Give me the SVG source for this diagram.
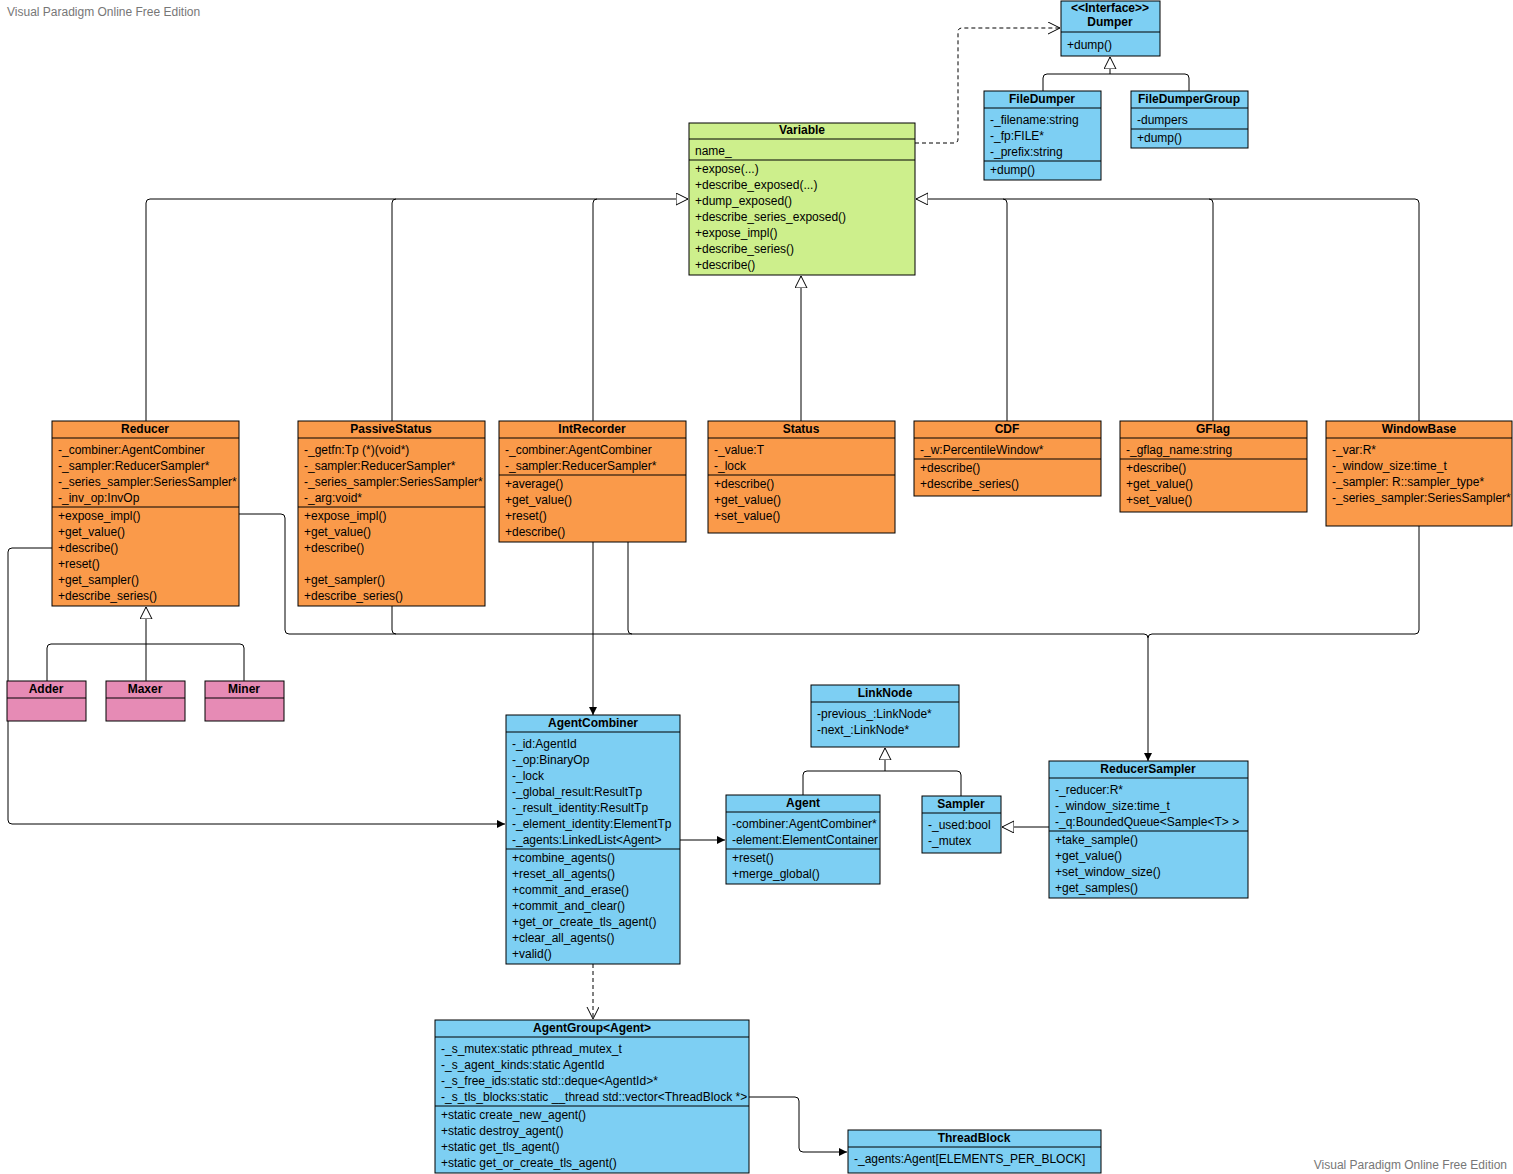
<svg xmlns="http://www.w3.org/2000/svg" width="1513" height="1174" viewBox="0 0 1513 1174">
<style>
text{font-family:"Liberation Sans",Arial,sans-serif;font-size:12px;fill:#000}
.h{font-weight:bold;text-anchor:middle}
.b{stroke:#000;stroke-width:1}
.o{fill:#FA9A4A}.c{fill:#7DCFF3}.g{fill:#CDEF8C}.p{fill:#E68BB5}
.l{fill:none;stroke:#000;stroke-width:1}
.d{fill:none;stroke:#000;stroke-width:1;stroke-dasharray:4 3}
.wm{fill:#777;font-size:12px}
</style>
<defs>
<marker id="tri" markerWidth="14" markerHeight="14" refX="12" refY="6" orient="auto" markerUnits="userSpaceOnUse"><path d="M0,0 L12,6 L0,12 Z" fill="#fff" stroke="#000"/></marker>
<marker id="arr" markerWidth="10" markerHeight="10" refX="8" refY="4" orient="auto" markerUnits="userSpaceOnUse"><path d="M0,0 L8,4 L0,8 Z" fill="#000"/></marker>
<marker id="open" markerWidth="14" markerHeight="14" refX="12" refY="6" orient="auto" markerUnits="userSpaceOnUse"><path d="M0,0 L12,6 L0,12" fill="none" stroke="#000"/></marker>
</defs>
<rect width="1513" height="1174" fill="#fff"/>
<text class="wm" x="7" y="16">Visual Paradigm Online Free Edition</text>
<text class="wm" x="1507" y="1169" text-anchor="end">Visual Paradigm Online Free Edition</text>

<g id="connectors">
<path class="d" d="M915,143 H954 Q958,143 958,139 V32 Q958,28 962,28 H1060" marker-end="url(#open)"/>
<path class="l" d="M1043,91 V78 Q1043,74 1047,74 H1185 Q1189,74 1189,78 V91"/>
<path class="l" d="M1110,74 V57" marker-end="url(#tri)"/>
<path class="l" d="M146,421 V203 Q146,199 150,199 H688" marker-end="url(#tri)"/>
<path class="l" d="M392,421 V203 Q392,199 396,199"/>
<path class="l" d="M593,421 V203 Q593,199 597,199"/>
<path class="l" d="M1419,421 V203 Q1419,199 1415,199 H916" marker-end="url(#tri)"/>
<path class="l" d="M1213,421 V203 Q1213,199 1209,199"/>
<path class="l" d="M1007,421 V203 Q1007,199 1003,199"/>
<path class="l" d="M801,421 V276" marker-end="url(#tri)"/>
<path class="l" d="M47,681 V648 Q47,644 51,644 H240 Q244,644 244,648 V681"/>
<path class="l" d="M146,681 V607" marker-end="url(#tri)"/>
<path class="l" d="M52,548 H12 Q8,548 8,552 V820 Q8,824 12,824 H505" marker-end="url(#arr)"/>
<path class="l" d="M593,542 V715" marker-end="url(#arr)"/>
<path class="l" d="M239,514 H281 Q285,514 285,518 V630 Q285,634 289,634 H1144 Q1148,634 1148,638 V761" marker-end="url(#arr)"/>
<path class="l" d="M392,606 V630 Q392,634 396,634"/>
<path class="l" d="M628,542 V630 Q628,634 632,634"/>
<path class="l" d="M1419,526 V630 Q1419,634 1415,634 H1152 Q1148,634 1148,638"/>
<path class="l" d="M680,840 H725" marker-end="url(#arr)"/>
<path class="l" d="M803,795 V775 Q803,771 807,771 H957 Q961,771 961,775 V796"/>
<path class="l" d="M885,771 V748" marker-end="url(#tri)"/>
<path class="l" d="M1049,827 H1002" marker-end="url(#tri)"/>
<path class="d" d="M593,964 V1019" marker-end="url(#open)"/>
<path class="l" d="M749,1097 H795 Q799,1097 799,1101 V1148 Q799,1152 803,1152 H847" marker-end="url(#arr)"/>
</g>

<g id="Dumper"><rect class="c b" x="1061" y="1" width="99" height="55"/><line class="b" x1="1061" y1="32" x2="1160" y2="32"/>
<text class="h" x="1110" y="12">&lt;&lt;Interface&gt;&gt;</text><text class="h" x="1110" y="26">Dumper</text><text x="1067" y="49">+dump()</text></g>

<g id="FileDumper"><rect class="c b" x="984" y="91" width="117" height="89"/><line class="b" x1="984" y1="108" x2="1101" y2="108"/><line class="b" x1="984" y1="161" x2="1101" y2="161"/>
<text class="h" x="1042" y="103">FileDumper</text><text x="990" y="124">-_filename:string</text><text x="990" y="140">-_fp:FILE*</text><text x="990" y="156">-_prefix:string</text><text x="990" y="174">+dump()</text></g>

<g id="FileDumperGroup"><rect class="c b" x="1131" y="91" width="117" height="57"/><line class="b" x1="1131" y1="108" x2="1248" y2="108"/><line class="b" x1="1131" y1="129" x2="1248" y2="129"/>
<text class="h" x="1189" y="103">FileDumperGroup</text><text x="1137" y="124">-dumpers</text><text x="1137" y="142">+dump()</text></g>

<g id="Variable"><rect class="g b" x="689" y="123" width="226" height="152"/><line class="b" x1="689" y1="139" x2="915" y2="139"/><line class="b" x1="689" y1="160" x2="915" y2="160"/>
<text class="h" x="802" y="134">Variable</text><text x="695" y="155">name_</text>
<text x="695" y="173">+expose(...)</text><text x="695" y="189">+describe_exposed(...)</text><text x="695" y="205">+dump_exposed()</text><text x="695" y="221">+describe_series_exposed()</text><text x="695" y="237">+expose_impl()</text><text x="695" y="253">+describe_series()</text><text x="695" y="269">+describe()</text></g>

<g id="Reducer"><rect class="o b" x="52" y="421" width="187" height="185"/><line class="b" x1="52" y1="438" x2="239" y2="438"/><line class="b" x1="52" y1="507" x2="239" y2="507"/>
<text class="h" x="145" y="433">Reducer</text><text x="58" y="454">-_combiner:AgentCombiner</text><text x="58" y="470">-_sampler:ReducerSampler*</text><text x="58" y="486">-_series_sampler:SeriesSampler*</text><text x="58" y="502">-_inv_op:InvOp</text>
<text x="58" y="520">+expose_impl()</text><text x="58" y="536">+get_value()</text><text x="58" y="552">+describe()</text><text x="58" y="568">+reset()</text><text x="58" y="584">+get_sampler()</text><text x="58" y="600">+describe_series()</text></g>

<g id="PassiveStatus"><rect class="o b" x="298" y="421" width="187" height="185"/><line class="b" x1="298" y1="438" x2="485" y2="438"/><line class="b" x1="298" y1="507" x2="485" y2="507"/>
<text class="h" x="391" y="433">PassiveStatus</text><text x="304" y="454">-_getfn:Tp (*)(void*)</text><text x="304" y="470">-_sampler:ReducerSampler*</text><text x="304" y="486">-_series_sampler:SeriesSampler*</text><text x="304" y="502">-_arg:void*</text>
<text x="304" y="520">+expose_impl()</text><text x="304" y="536">+get_value()</text><text x="304" y="552">+describe()</text><text x="304" y="584">+get_sampler()</text><text x="304" y="600">+describe_series()</text></g>

<g id="IntRecorder"><rect class="o b" x="499" y="421" width="187" height="121"/><line class="b" x1="499" y1="438" x2="686" y2="438"/><line class="b" x1="499" y1="475" x2="686" y2="475"/>
<text class="h" x="592" y="433">IntRecorder</text><text x="505" y="454">-_combiner:AgentCombiner</text><text x="505" y="470">-_sampler:ReducerSampler*</text>
<text x="505" y="488">+average()</text><text x="505" y="504">+get_value()</text><text x="505" y="520">+reset()</text><text x="505" y="536">+describe()</text></g>

<g id="Status"><rect class="o b" x="708" y="421" width="187" height="112"/><line class="b" x1="708" y1="438" x2="895" y2="438"/><line class="b" x1="708" y1="475" x2="895" y2="475"/>
<text class="h" x="801" y="433">Status</text><text x="714" y="454">-_value:T</text><text x="714" y="470">-_lock</text>
<text x="714" y="488">+describe()</text><text x="714" y="504">+get_value()</text><text x="714" y="520">+set_value()</text></g>

<g id="CDF"><rect class="o b" x="914" y="421" width="187" height="75"/><line class="b" x1="914" y1="438" x2="1101" y2="438"/><line class="b" x1="914" y1="459" x2="1101" y2="459"/>
<text class="h" x="1007" y="433">CDF</text><text x="920" y="454">-_w:PercentileWindow*</text>
<text x="920" y="472">+describe()</text><text x="920" y="488">+describe_series()</text></g>

<g id="GFlag"><rect class="o b" x="1120" y="421" width="187" height="91"/><line class="b" x1="1120" y1="438" x2="1307" y2="438"/><line class="b" x1="1120" y1="459" x2="1307" y2="459"/>
<text class="h" x="1213" y="433">GFlag</text><text x="1126" y="454">-_gflag_name:string</text>
<text x="1126" y="472">+describe()</text><text x="1126" y="488">+get_value()</text><text x="1126" y="504">+set_value()</text></g>

<g id="WindowBase"><rect class="o b" x="1326" y="421" width="186" height="105"/><line class="b" x1="1326" y1="438" x2="1512" y2="438"/>
<text class="h" x="1419" y="433">WindowBase</text><text x="1332" y="454">-_var:R*</text><text x="1332" y="470">-_window_size:time_t</text><text x="1332" y="486">-_sampler: R::sampler_type*</text><text x="1332" y="502">-_series_sampler:SeriesSampler*</text></g>

<g id="Adder"><rect class="p b" x="7" y="681" width="79" height="40"/><line class="b" x1="7" y1="698" x2="86" y2="698"/><text class="h" x="46" y="693">Adder</text></g>
<g id="Maxer"><rect class="p b" x="106" y="681" width="79" height="40"/><line class="b" x1="106" y1="698" x2="185" y2="698"/><text class="h" x="145" y="693">Maxer</text></g>
<g id="Miner"><rect class="p b" x="205" y="681" width="79" height="40"/><line class="b" x1="205" y1="698" x2="284" y2="698"/><text class="h" x="244" y="693">Miner</text></g>

<g id="AgentCombiner"><rect class="c b" x="506" y="715" width="174" height="249"/><line class="b" x1="506" y1="732" x2="680" y2="732"/><line class="b" x1="506" y1="849" x2="680" y2="849"/>
<text class="h" x="593" y="727">AgentCombiner</text><text x="512" y="748">-_id:AgentId</text><text x="512" y="764">-_op:BinaryOp</text><text x="512" y="780">-_lock</text><text x="512" y="796">-_global_result:ResultTp</text><text x="512" y="812">-_result_identity:ResultTp</text><text x="512" y="828">-_element_identity:ElementTp</text><text x="512" y="844">-_agents:LinkedList&lt;Agent&gt;</text>
<text x="512" y="862">+combine_agents()</text><text x="512" y="878">+reset_all_agents()</text><text x="512" y="894">+commit_and_erase()</text><text x="512" y="910">+commit_and_clear()</text><text x="512" y="926">+get_or_create_tls_agent()</text><text x="512" y="942">+clear_all_agents()</text><text x="512" y="958">+valid()</text></g>

<g id="LinkNode"><rect class="c b" x="811" y="685" width="148" height="62"/><line class="b" x1="811" y1="702" x2="959" y2="702"/>
<text class="h" x="885" y="697">LinkNode</text><text x="817" y="718">-previous_:LinkNode*</text><text x="817" y="734">-next_:LinkNode*</text></g>

<g id="Agent"><rect class="c b" x="726" y="795" width="154" height="89"/><line class="b" x1="726" y1="812" x2="880" y2="812"/><line class="b" x1="726" y1="849" x2="880" y2="849"/>
<text class="h" x="803" y="807">Agent</text><text x="732" y="828">-combiner:AgentCombiner*</text><text x="732" y="844">-element:ElementContainer</text><text x="732" y="862">+reset()</text><text x="732" y="878">+merge_global()</text></g>

<g id="Sampler"><rect class="c b" x="922" y="796" width="79" height="57"/><line class="b" x1="922" y1="813" x2="1001" y2="813"/>
<text class="h" x="961" y="808">Sampler</text><text x="928" y="829">-_used:bool</text><text x="928" y="845">-_mutex</text></g>

<g id="ReducerSampler"><rect class="c b" x="1049" y="761" width="199" height="137"/><line class="b" x1="1049" y1="778" x2="1248" y2="778"/><line class="b" x1="1049" y1="831" x2="1248" y2="831"/>
<text class="h" x="1148" y="773">ReducerSampler</text><text x="1055" y="794">-_reducer:R*</text><text x="1055" y="810">-_window_size:time_t</text><text x="1055" y="826">-_q:BoundedQueue&lt;Sample&lt;T&gt; &gt;</text>
<text x="1055" y="844">+take_sample()</text><text x="1055" y="860">+get_value()</text><text x="1055" y="876">+set_window_size()</text><text x="1055" y="892">+get_samples()</text></g>

<g id="AgentGroup"><rect class="c b" x="435" y="1020" width="314" height="153"/><line class="b" x1="435" y1="1037" x2="749" y2="1037"/><line class="b" x1="435" y1="1106" x2="749" y2="1106"/>
<text class="h" x="592" y="1032">AgentGroup&lt;Agent&gt;</text><text x="441" y="1053">-_s_mutex:static pthread_mutex_t</text><text x="441" y="1069">-_s_agent_kinds:static AgentId</text><text x="441" y="1085">-_s_free_ids:static std::deque&lt;AgentId&gt;*</text><text x="441" y="1101">-_s_tls_blocks:static __thread std::vector&lt;ThreadBlock *&gt;</text>
<text x="441" y="1119">+static create_new_agent()</text><text x="441" y="1135">+static destroy_agent()</text><text x="441" y="1151">+static get_tls_agent()</text><text x="441" y="1167">+static get_or_create_tls_agent()</text></g>

<g id="ThreadBlock"><rect class="c b" x="848" y="1130" width="253" height="43"/><line class="b" x1="848" y1="1147" x2="1101" y2="1147"/>
<text class="h" x="974" y="1142">ThreadBlock</text><text x="854" y="1163">-_agents:Agent[ELEMENTS_PER_BLOCK]</text></g>
</svg>
